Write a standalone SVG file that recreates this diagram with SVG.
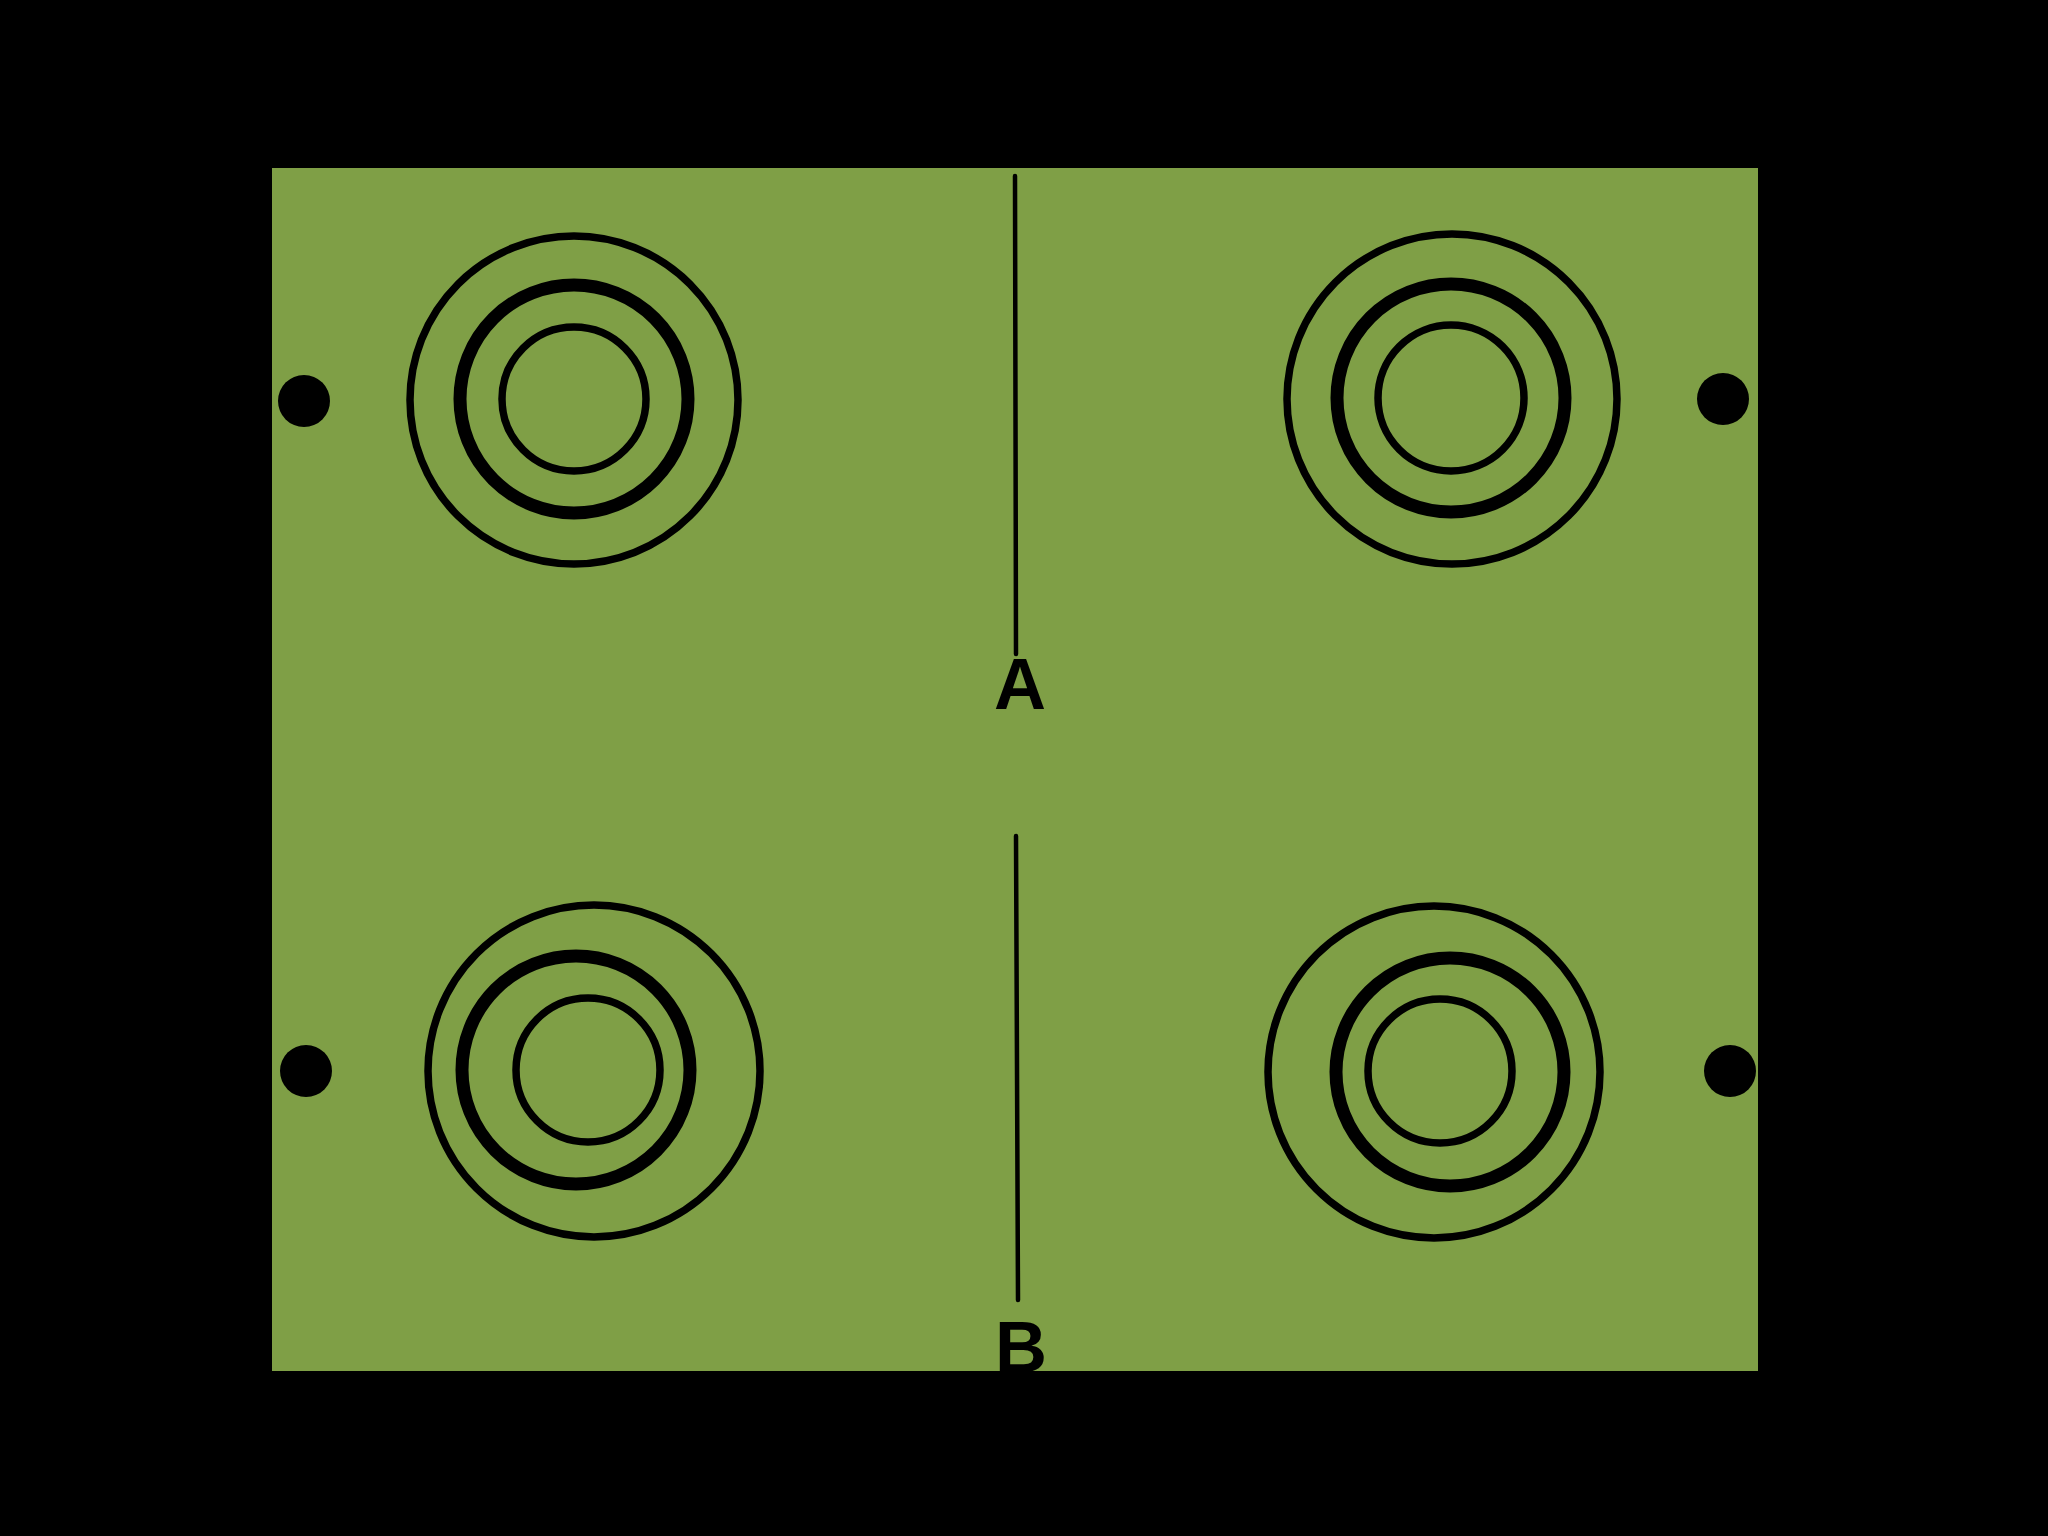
<svg xmlns="http://www.w3.org/2000/svg" width="2048" height="1536" viewBox="0 0 2048 1536">
<style>
.ring{fill:none;stroke:#000}
.o{stroke-width:7.5}
.t{stroke-width:13}
.i{stroke-width:7.5}
.dot{fill:#000}
.lbl{font-family:"Liberation Sans",Arial,sans-serif;font-size:72px;font-weight:bold;fill:#000;text-anchor:middle}
.ln{stroke:#000;stroke-width:4.5;stroke-linecap:round}
</style>
<rect x="0" y="0" width="2048" height="1536" fill="#000"/>
<rect x="272" y="168" width="1486" height="1203" fill="#7f9f46"/>
<g id="ring-tl">
<circle class="ring o" cx="574" cy="400" r="164"/>
<circle class="ring t" cx="574" cy="399" r="114"/>
<circle class="ring i" cx="574" cy="399" r="72"/>
</g>
<g id="ring-tr">
<circle class="ring o" cx="1452" cy="399" r="165"/>
<circle class="ring t" cx="1451" cy="398" r="114"/>
<circle class="ring i" cx="1451" cy="398" r="73"/>
</g>
<g id="ring-bl">
<circle class="ring o" cx="594" cy="1071" r="166"/>
<circle class="ring t" cx="576" cy="1070" r="114"/>
<circle class="ring i" cx="588" cy="1070" r="72"/>
</g>
<g id="ring-br">
<circle class="ring o" cx="1434" cy="1072" r="166"/>
<circle class="ring t" cx="1450" cy="1072" r="114"/>
<circle class="ring i" cx="1440" cy="1071" r="72"/>
</g>
<g id="dots">
<circle class="dot" cx="304" cy="401" r="26"/>
<circle class="dot" cx="1723" cy="399" r="26"/>
<circle class="dot" cx="306" cy="1071" r="26"/>
<circle class="dot" cx="1730" cy="1071" r="26"/>
</g>
<g id="connectors">
<line class="ln" x1="1015" y1="176" x2="1016" y2="654"/>
<line class="ln" x1="1016" y1="836" x2="1018" y2="1300"/>
</g>
<g id="labels">
<text class="lbl" x="1020" y="709">A</text>
<text class="lbl" x="1021" y="1372">B</text>
</g>
</svg>
